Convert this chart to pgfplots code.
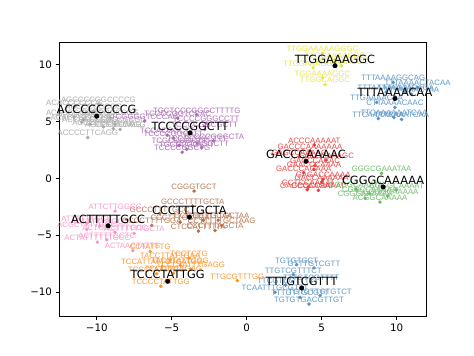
\documentclass[border=0pt]{standalone}
\usepackage{fontspec}
\setmainfont{DejaVu Sans}
\newfontfamily\smallfont{Liberation Sans}
\usepackage{pgfplots}
\pgfplotsset{compat=1.18}
\definecolor{cred}{HTML}{E41A1C}
\definecolor{cblue}{HTML}{377EB8}
\definecolor{cgreen}{HTML}{4DAF4A}
\definecolor{cpurple}{HTML}{984EA3}
\definecolor{corange}{HTML}{FF7F00}
\definecolor{cyellow}{HTML}{E2E21A}
\definecolor{cbrown}{HTML}{A65628}
\definecolor{cpink}{HTML}{F781BF}
\definecolor{cgrey}{HTML}{999999}
\pgfplotsset{
  kmer/.style={only marks, color=#1, mark=*, mark size=1.5pt,
    mark options={draw=#1!85!white, fill=#1!85!white},
    nodes near coords, point meta=explicit symbolic,
    every node near coord/.style={font=\smallfont\fontsize{7.6}{8}\selectfont, text=#1!80!white, anchor=base, yshift=1.5pt, inner sep=0pt}},
}
\pgfplotstableread{
x y label
-10.00 5.47 ACCCCCCCCG
-3.78 4.00 TCCCCGGCTT
5.89 9.91 TTGGAAAGGC
9.89 7.03 TTTAAAACAA
3.96 1.50 GACCCAAAAC
9.10 -0.76 CGGGCAAAAA
-3.82 -3.41 CCCTTTGCTA
-9.24 -4.18 ACTTTTTGCC
-5.27 -9.06 TCCCTATTGG
3.67 -9.65 TTTGTCGTTT
}\centers
\begin{document}
\begin{tikzpicture}
\useasboundingbox (0,0) rectangle (460.8pt,345.6pt);
\begin{axis}[at={(57.6pt,38.016pt)}, anchor=south west, scale only axis,
  width=357.12pt, height=266.112pt,
  xmin=-12.5, xmax=12.0, ymin=-12.15, ymax=11.94, clip=false,
  axis line style={line width=0.8pt},
  tick align=outside, xtick pos=left, ytick pos=left,
  major tick length=3.5pt, tick style={line width=0.8pt, black},
  xtick={-10,-5,0,5,10}, xticklabels={−10,−5,0,5,10},
  ytick={-10,-5,0,5,10}, yticklabels={−10,−5,0,5,10},
  tick label style={font=\fontsize{10}{12}\selectfont},
]
\addplot[kmer=cgrey] table[meta=label] {
x y label
-10.6 3.59 ACCCCTTCAGG
-9.89 6.53 AGCCCCGGCCCCG
-11.5 6.30 ACACCCCCCG
-11.5 5.40 ACACCCCGCG
-11.0 4.94 ACACCGCCCCG
-9.10 5.35 CCCCCCCCGG
-8.78 4.76 ACCCCCCGCGG
-9.56 4.53 ACCCCGCCCAG
-10.44 4.76 ACCCCCCCAG
-8.44 4.30 CCCCCCAGG
-10.9 5.18 ACCCCCCCCA
-8.89 4.38 AGCCCCCAGG
-10.2 5.90 ACCCCCCCGG
};
\addplot[kmer=cpurple] table[meta=label] {
x y label
-3.33 5.60 TGCTCCCGGGCTTTTG
-6.80 5.05 TCGGGGTCCCAC
-4.60 5.30 TCCCCGGTCCAC
-2.70 4.85 TCCCCGGGCCTT
-2.80 4.30 TCCCCGGCGCTT
-4.90 3.55 TCCCCGGCATT
-2.20 3.30 TCCCCGGGCTA
-4.00 2.55 TGCCCGGCTT
-4.30 2.30 TCCCCGGCTG
-3.30 3.10 TCCGCGGCTTT
-5.30 3.80 TCCACGGCTT
-4.50 2.90 TCGCCGGCTT
-3.00 2.70 TCCCAGGCTT
};
\addplot[kmer=cyellow] table[meta=label] {
x y label
5.05 11.00 TTGGAAAAAGGGC
4.44 9.74 TTGGAAAGGCT
5.90 10.45 TTGGAAAAGGC
5.05 8.85 TGGAAAAGGC
5.22 8.26 TTGGCAGGC
6.30 9.90 TTGGAAAGCC
};
\addplot[kmer=cblue] table[meta=label] {
x y label
9.78 8.44 TTTAAAAGGCAG
11.40 8.00 TTTAAAACTACAA
8.67 6.68 TTGAAAACAA
9.89 6.24 CTTAAAACAAC
9.82 5.35 TTCAAAAAATCAA
8.78 5.26 TTCAAAACAA
10.33 5.18 TTTAAAATCAA
11.00 7.40 TTTAAAACTAA
10.60 7.60 TTTAAAACAGA
9.30 7.60 TTTAAAACAAG
};
\addplot[kmer=cred] table[meta=label] {
x y label
4.51 2.94 ACCCAAAAAT
4.22 2.41 GACCCAAAAAAA
4.56 1.15 GACCCACAC
4.49 0.80 GAACCCAAAA
3.80 0.50 GACCCAGAAA
5.10 -0.09 GAGACCAAAA
4.11 -0.76 GCTCCAAAAT
4.04 -1.00 GACCCAAGAT
4.78 -1.06 GCCCCAAAAT
5.00 -0.32 GACCAAAAAA
3.50 1.90 GAGCCAAAAC
5.30 1.60 GACCCAAAGC
};
\addplot[kmer=cgreen] table[meta=label] {
x y label
9.00 0.44 GGGCGAAATAA
7.30 -0.95 CGGGCAAATA
9.40 -1.56 CGGGGCAAAAA
8.89 -2.09 ACGGCAAAAA
8.20 -1.35 CGGCCAAAAA
10.00 -1.00 CGGGCAAAAT
7.90 -1.75 CGGCAAAAAA
};
\addplot[kmer=cbrown] table[meta=label] {
x y label
-3.51 -1.12 CGGGTGCT
-3.60 -2.44 GCCCTTTTGCTA
-5.80 -3.10 GCCCTTTTGCC
-1.90 -3.68 CCCTTTTGCTAA
-1.67 -4.15 CCTTTTTGCTAAG
-3.22 -4.65 CTCCATTTTTA
-2.11 -4.59 CCCTTTAGCTA
-6.33 -4.15 GCCCTTTTGGA
-4.44 -3.85 CCCTTTGCTGA
-2.89 -3.70 CCCTTTTGCAA
};
\addplot[kmer=cpink] table[meta=label] {
x y label
-8.78 -2.88 ATTCTTGGCC
-10.67 -3.97 ATTTTTTGCC
-8.78 -4.74 ACTGGCTTTGCC
-7.50 -4.85 ACTTTTTTGCTA
-9.96 -5.62 ACTATTTTTTGCC
-9.33 -5.41 ACTTTTTGCTC
-10.67 -4.50 ACGCTTTTGCC
-9.80 -4.20 ACTTTTTGGCC
-7.60 -6.35 ACTAACTATTG
};
\addplot[kmer=corange] table[meta=label] {
x y label
-6.44 -6.44 CCTATTTG
-3.84 -7.03 TCCTCTG
-5.11 -7.18 TACCTTATTGAA
-5.64 -7.74 TCCATTATTGTCATGG
-3.73 -7.97 TCCCTATTTGAGG
-0.62 -9.00 TTGCGTTTGG
-5.73 -9.50 TCCCCTATTGG
-4.89 -8.35 TCCCTATTGAG
-4.44 -7.65 TACCTATTGGG
-6.00 -8.40 TCCCTAATTGG
};
\addplot[kmer=cblue] table[meta=label] {
x y label
3.33 -7.59 TGTGTGCT
4.49 -7.88 GTTTGTCGTT
3.11 -8.47 TTGTCGTTTCT
1.89 -10.03 TCAATTTGCGTTT
4.89 -10.32 TGTGTTGTGTCT
4.16 -11.06 TGTGTGACGTTGT
3.56 -10.47 TTTGTTGCGTT
4.30 -9.10 TTTGTCGTTTT
2.60 -9.40 TTCGTCGTTTT
};
\addplot[only marks, mark=*, mark size=2.2pt, color=black,
  mark options={draw=black, fill=black}] table[x=x, y=y] {\centers};
\addplot[only marks, mark=none, draw=none,
  nodes near coords, point meta=explicit symbolic,
  every node near coord/.style={font=\fontsize{11}{13}\selectfont, text=black, anchor=base, yshift=2.3pt, inner sep=0pt}]
  table[x=x, y=y, meta=label] {\centers};
\end{axis}
\end{tikzpicture}
\end{document}
